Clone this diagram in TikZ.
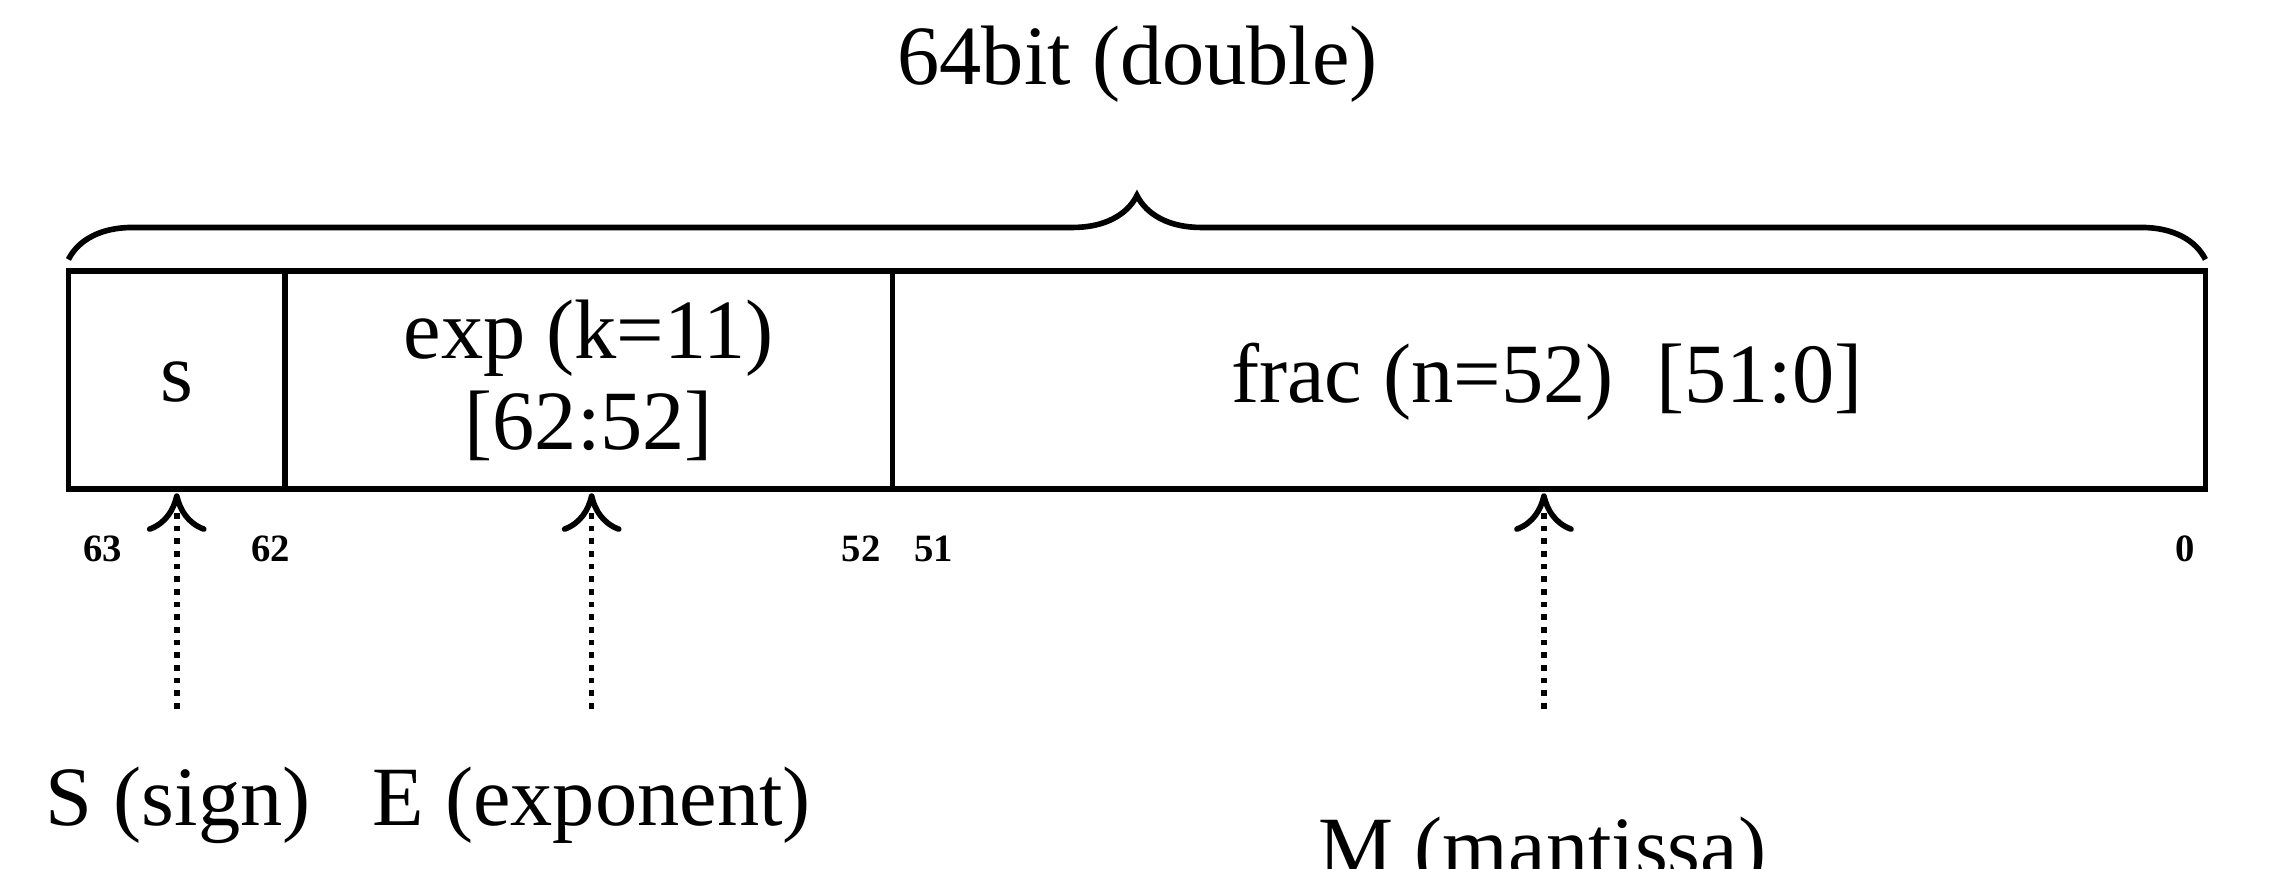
\documentclass[tikz,border=0pt]{standalone}
\usepackage{fontspec}
\setmainfont{Liberation Serif}
\usetikzlibrary{decorations.pathreplacing,arrows.meta}
\begin{document}
\begin{tikzpicture}[x=0.014256cm,y=-0.014256cm,
  big/.style={font=\fontsize{24}{28}\selectfont},
  bitnum/.style={font=\fontsize{11}{13}\selectfont\bfseries},
  ptr/.style={dotted,line width=1.6pt,-{To[length=11pt,width=17pt,line width=1.6pt]}}]
\useasboundingbox (0,0) rectangle (1600,609.5);
\draw[line width=1.6pt] (48,190) rectangle (1547,343);
\draw[line width=1.6pt] (200,190) -- (200,343);
\draw[line width=1.6pt] (626,190) -- (626,343);
\node[big] (sf) at (124,268) {s};
\node[big,align=center] (ef) at (413,267) {exp (k=11)\\[-2pt] [62:52]};
\node[big] (mf) at (1085,268) {frac (n=52)\ \ [51:0]};
\draw[line width=1.6pt,decorate,decoration={brace,amplitude=0.64cm}] (48,182) -- (1547,182);
\node[big] (title) at (798,45) {64bit (double)};
\node[bitnum] (b63) at (72,385) {63};
\node[bitnum] (b62) at (190,385) {62};
\node[bitnum] (b52) at (604,385) {52};
\node[bitnum] (b51) at (655,385) {51};
\node[bitnum] (b0) at (1533,385) {0};
\node[big] (ls) at (125,565) {S (sign)};
\node[big] (le) at (415,565) {E (exponent)};
\node[big] (lm) at (1082,600) {M (mantissa)};
\draw[ptr] (124,497) -- (124,346);
\draw[ptr] (415,497) -- (415,346);
\draw[ptr] (1083,497) -- (1083,346);
\end{tikzpicture}
\end{document}
